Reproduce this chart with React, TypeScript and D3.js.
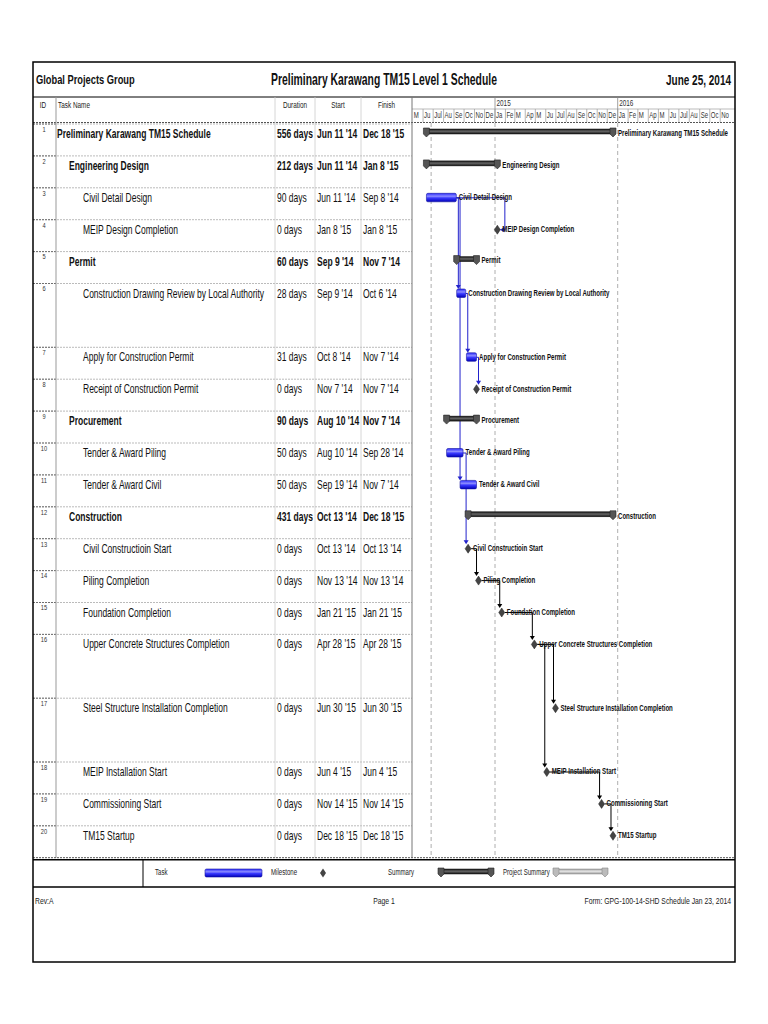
import React from 'react';
import * as d3 from 'd3';

const taskIds = [1,2,3,4,5,6,7,8,9,10,11,12,13,14,15,16,17,18,19,20];
const taskNames = [
  'Preliminary Karawang TM15 Schedule',
  'Engineering Design',
  'Civil  Detail Design',
  'MEIP Design Completion',
  'Permit',
  'Construction Drawing Review by Local Authority',
  'Apply for Construction Permit',
  'Receipt of Construction Permit',
  'Procurement',
  'Tender & Award Piling',
  'Tender & Award Civil',
  'Construction',
  'Civil Constructioin Start',
  'Piling Completion',
  'Foundation Completion',
  'Upper Concrete Structures Completion',
  'Steel Structure Installation Completion',
  'MEIP Installation Start',
  'Commissioning Start',
  'TM15 Startup',
];
const taskLevels = [0,1,2,2,1,2,2,2,1,2,2,1,2,2,2,2,2,2,2,2];
const taskKinds = ['summary','summary','task','milestone','summary','task','task','milestone','summary','task','task','summary','milestone','milestone','milestone','milestone','milestone','milestone','milestone','milestone'];
const rowSpans = [1,1,1,1,1,2,1,1,1,1,1,1,1,1,1,2,2,1,1,1];
const durations = ['556 days','212 days','90 days','0 days','60 days','28 days','31 days','0 days','90 days','50 days','50 days','431 days','0 days','0 days','0 days','0 days','0 days','0 days','0 days','0 days'];
const startLabels = ["Jun 11 '14","Jun 11 '14","Jun 11 '14","Jan 8 '15","Sep 9 '14","Sep 9 '14","Oct 8 '14","Nov 7 '14","Aug 10 '14","Aug 10 '14","Sep 19 '14","Oct 13 '14","Oct 13 '14","Nov 13 '14","Jan 21 '15","Apr 28 '15","Jun 30 '15","Jun 4 '15","Nov 14 '15","Dec 18 '15"];
const finishLabels = ["Dec 18 '15","Jan 8 '15","Sep 8 '14","Jan 8 '15","Nov 7 '14","Oct 6 '14","Nov 7 '14","Nov 7 '14","Nov 7 '14","Sep 28 '14","Nov 7 '14","Dec 18 '15","Oct 13 '14","Nov 13 '14","Jan 21 '15","Apr 28 '15","Jun 30 '15","Jun 4 '15","Nov 14 '15","Dec 18 '15"];
const startDates = ['2014-06-11','2014-06-11','2014-06-11','2015-01-08','2014-09-09','2014-09-09','2014-10-08','2014-11-07','2014-08-10','2014-08-10','2014-09-19','2014-10-13','2014-10-13','2014-11-13','2015-01-21','2015-04-28','2015-06-30','2015-06-04','2015-11-14','2015-12-18'];
const finishDates = ['2015-12-18','2015-01-08','2014-09-08','2015-01-08','2014-11-07','2014-10-06','2014-11-07','2014-11-07','2014-11-07','2014-09-28','2014-11-07','2015-12-18','2014-10-13','2014-11-13','2015-01-21','2015-04-28','2015-06-30','2015-06-04','2015-11-14','2015-12-18'];

// dependency links (0-based task indexes)
const linkFrom = [2,2,2,5,6,9,12,13,14,15,15,17,18];
const linkTo   = [3,5,10,6,7,12,13,14,15,16,17,18,19];
const linkBlue = [true,true,true,true,true,true,false,false,false,false,false,false,false];
const linkFinishFinish = [true,false,false,false,false,false,false,false,false,false,false,false,false];

const monthLabels = ['M','Ju','Jul','Au','Se','Oc','No','De','Ja','Fe','M','Ap','M','Ju','Jul','Au','Se','Oc','No','De','Ja','Fe','M','Ap','M','Ju','Jul','Au','Se','Oc','No'];
const yearLabels = ['', '2015', '2016'];
const statusDate = '2014-06-25';

const headerTitle = 'Preliminary Karawang TM15 Level 1 Schedule';
const headerLeft = 'Global Projects Group';
const headerDate = 'June 25, 2014';
const footerLeft = 'Rev:A';
const footerMid = 'Page 1';
const footerRight = 'Form: GPG-100-14-SHD Schedule Jan 23, 2014';

const FONT = "'Liberation Sans', Arial, sans-serif";
const K = 0.71; // horizontal condensation (narrow face look)

const parse = d3.utcParse('%Y-%m-%d');

type TxtProps = {
  x: number; y: number; size: number; bold?: boolean; anchor?: 'start' | 'middle' | 'end';
  fill?: string; children: React.ReactNode; k?: number;
};
function Txt({ x, y, size, bold, anchor = 'start', fill = '#111', children, k = K }: TxtProps) {
  return (
    <text
      transform={`translate(${x},${y}) scale(${k},1)`}
      fontSize={size}
      fontWeight={bold ? 'bold' : 'normal'}
      textAnchor={anchor}
      dominantBaseline="central"
      fill={fill}
    >
      {children}
    </text>
  );
}

export default function App() {
  const W = 768, H = 1024;
  const L = 33, R = 735, T = 62, B = 962;
  const ganttL = 412;
  const colName = 56, colDur = 275, colStart = 315, colFin = 361;
  const x = d3.scaleUtc()
    .domain([parse('2015-01-01')!, parse('2016-01-01')!])
    .range([495, 617.7]);

  const unit = 31.9;
  const firstTop = 124;
  const unitScale = d3.scaleLinear().domain([0, 1]).range([firstTop, firstTop + unit]);
  const cum = d3.cumsum(rowSpans);
  const rowTop = rowSpans.map((s, i) => unitScale(cum[i] - s));
  const tableEnd = unitScale(cum[cum.length - 1]);

  const sx = taskIds.map((_, i) => x(parse(startDates[i])!));
  const fx = taskIds.map((_, i) => x(parse(finishDates[i])!));

  const months = d3.utcMonth.range(parse('2014-05-01')!, parse('2016-12-01')!);
  const years = d3.utcYear.range(parse('2014-01-01')!, parse('2017-01-01')!);
  const tierTop = 97, tierMid = 109, tierBot = 122;

  const clampX = (v: number) => Math.max(ganttL, Math.min(R, v));

  const summaryShape = (x0: number, x1: number, top: number, key: string, light = false) => {
    const cap = (cx: number) =>
      `M${cx - 3},${top + 4} H${cx + 3} V${top + 10} L${cx},${top + 13} L${cx - 3},${top + 10} Z`;
    return (
      <g key={key}>
        <rect x={x0} y={top + 5} width={x1 - x0} height={5} fill={light ? 'url(#psumGrad)' : 'url(#sumGrad)'} stroke={light ? '#888' : '#111'} strokeWidth={0.5} />
        <path d={cap(x0)} fill={light ? '#bbb' : '#555'} stroke={light ? '#888' : '#222'} strokeWidth={0.6} />
        <path d={cap(x1)} fill={light ? '#bbb' : '#555'} stroke={light ? '#888' : '#222'} strokeWidth={0.6} />
      </g>
    );
  };

  const diamond = (cx: number, cy: number) =>
    `M${cx},${cy - 4.5} L${cx + 3},${cy} L${cx},${cy + 4.5} L${cx - 3},${cy} Z`;

  const links = linkFrom.map((fi, k) => {
    const ti = linkTo[k];
    const color = linkBlue[k] ? '#2222cc' : '#000';
    const predMil = taskKinds[fi] === 'milestone';
    const succMil = taskKinds[ti] === 'milestone';
    const px = predMil ? sx[fi] + 3 : fx[fi];
    const py = rowTop[fi] + 10;
    if (linkFinishFinish[k]) {
      const sxm = sx[ti];
      const cy = rowTop[ti] + 10;
      const vx = sxm + 7.5;
      return (
        <g key={'l' + k}>
          <path d={`M${px},${py} H${vx} V${cy} H${sxm + 6}`} fill="none" stroke={color} strokeWidth={1} />
          <path d={`M${sxm + 2.5},${cy} L${sxm + 7},${cy - 2.5} L${sxm + 7},${cy + 2.5} Z`} fill={color} />
        </g>
      );
    }
    const vx = succMil ? Math.max(px + 2, sx[ti] - 2) : Math.max(px + 2, sx[ti]);
    const tipY = rowTop[ti] + 5.5;
    return (
      <g key={'l' + k}>
        <path d={`M${px},${py} H${vx} V${tipY - 3}`} fill="none" stroke={color} strokeWidth={1} />
        <path d={`M${vx - 2.5},${tipY - 4} L${vx + 2.5},${tipY - 4} L${vx},${tipY} Z`} fill={color} />
      </g>
    );
  });

  const nameX = (lvl: number) => (lvl === 0 ? 57 : lvl === 1 ? 69 : 83);
  const LBL = 8.6;

  return (
    <svg width={W} height={H} style={{ position: 'absolute', left: 0, top: 0, background: '#fff' }} fontFamily={FONT}>
      <defs>
        <linearGradient id="taskGrad" x1="0" y1="0" x2="0" y2="1">
          <stop offset="0%" stopColor="#2a2aff" />
          <stop offset="35%" stopColor="#8c8cff" />
          <stop offset="55%" stopColor="#3a3aff" />
          <stop offset="100%" stopColor="#0000b8" />
        </linearGradient>
        <linearGradient id="sumGrad" x1="0" y1="0" x2="0" y2="1">
          <stop offset="0%" stopColor="#111" />
          <stop offset="45%" stopColor="#666" />
          <stop offset="100%" stopColor="#111" />
        </linearGradient>
        <linearGradient id="psumGrad" x1="0" y1="0" x2="0" y2="1">
          <stop offset="0%" stopColor="#999" />
          <stop offset="45%" stopColor="#e6e6e6" />
          <stop offset="100%" stopColor="#999" />
        </linearGradient>
      </defs>

      {/* header */}
      <Txt x={36} y={79} size={13.5} bold k={0.69}>{headerLeft}</Txt>
      <Txt x={384} y={80} size={16} bold anchor="middle" k={0.65}>{headerTitle}</Txt>
      <Txt x={731} y={80} size={14.5} bold anchor="end" k={0.69}>{headerDate}</Txt>
      <line x1={L} x2={R} y1={tierTop} y2={tierTop} stroke="#000" strokeWidth={1} />

      {/* column headers */}
      <Txt x={43} y={105} size={9} anchor="middle" fill="#222">ID</Txt>
      <Txt x={58} y={105} size={9} fill="#222">Task Name</Txt>
      <Txt x={(colDur + colStart) / 2} y={105} size={9} anchor="middle" fill="#222">Duration</Txt>
      <Txt x={(colStart + colFin) / 2} y={105} size={9} anchor="middle" fill="#222">Start</Txt>
      <Txt x={(colFin + ganttL) / 2} y={105} size={9} anchor="middle" fill="#222">Finish</Txt>

      {/* timescale */}
      <line x1={ganttL} x2={R} y1={tierMid} y2={tierMid} stroke="#aaa" strokeWidth={0.8} />
      {years.map((yr, i) => {
        const xx = x(yr);
        if (xx < ganttL || xx > R) return null;
        return (
          <g key={'y' + i}>
            <line x1={xx} x2={xx} y1={tierTop} y2={tierBot} stroke="#888" strokeWidth={0.8} />
            <Txt x={xx + 1.5} y={tierTop + 6} size={9} fill="#333">{yearLabels[i]}</Txt>
          </g>
        );
      })}
      {months.map((m, i) => {
        const x0 = clampX(x(m));
        return (
          <g key={'m' + i}>
            {i > 0 && <line x1={x0} x2={x0} y1={tierMid} y2={tierBot} stroke="#999" strokeWidth={0.7} />}
            <Txt x={x0 + 1} y={tierMid + 6.5} size={8.5} fill="#333">{monthLabels[i]}</Txt>
          </g>
        );
      })}
      <line x1={L} x2={R} y1={tierBot + 0.5} y2={tierBot + 0.5} stroke="#555" strokeWidth={1.2} strokeDasharray="2,1" />

      {/* table grid */}
      {rowTop.map((t, i) => (
        <line key={'rs' + i} x1={L} x2={ganttL} y1={t} y2={t} stroke="#aaa" strokeWidth={0.8} strokeDasharray="2,1" />
      ))}
      {rowTop.map((t, i) => (
        <line key={'rid' + i} x1={L} x2={colName} y1={t} y2={t} stroke="#666" strokeWidth={0.9} strokeDasharray="2,1" />
      ))}
      <line x1={colName} x2={colName} y1={tierTop} y2={tableEnd} stroke="#999" strokeWidth={1} />
      {[colDur, colStart, colFin].map((c, i) => (
        <line key={'c' + i} x1={c} x2={c} y1={tierTop} y2={tableEnd} stroke="#ccc" strokeWidth={0.8} />
      ))}
      <line x1={ganttL} x2={ganttL} y1={tierTop} y2={tableEnd} stroke="#777" strokeWidth={1} />

      {/* table rows */}
      {taskIds.map((id, i) => {
        const t = rowTop[i];
        const bold = taskKinds[i] === 'summary';
        const fs = 12;
        return (
          <g key={'row' + i}>
            <Txt x={44} y={t + 5} size={8} anchor="middle" fill="#333">{id}</Txt>
            <Txt x={nameX(taskLevels[i])} y={t + 10} size={fs} bold={bold}>{taskNames[i]}</Txt>
            <Txt x={colDur + 2} y={t + 10} size={fs} bold={bold}>{durations[i]}</Txt>
            <Txt x={colStart + 2} y={t + 10} size={fs} bold={bold}>{startLabels[i]}</Txt>
            <Txt x={colFin + 2} y={t + 10} size={fs} bold={bold}>{finishLabels[i]}</Txt>
          </g>
        );
      })}

      {/* gantt gridlines */}
      {[x(parse(statusDate)!), ...years.map((yr) => x(yr))]
        .filter((v) => v > ganttL && v < R)
        .map((v, i) => (
          <line key={'g' + i} x1={v} x2={v} y1={tierBot + 1} y2={tableEnd} stroke="#999" strokeWidth={0.8} strokeDasharray="4,3" />
        ))}

      {/* links */}
      {links}

      {/* bars */}
      {taskIds.map((id, i) => {
        const t = rowTop[i];
        const kind = taskKinds[i];
        if (kind === 'summary') {
          return (
            <g key={'b' + i}>
              {summaryShape(sx[i], fx[i], t, 's' + i)}
              <Txt x={fx[i] + 5} y={t + 9} size={LBL} bold>{taskNames[i]}</Txt>
            </g>
          );
        }
        if (kind === 'task') {
          return (
            <g key={'b' + i}>
              <rect x={sx[i]} y={t + 5.5} width={fx[i] - sx[i]} height={8.5} rx={1.5} fill="url(#taskGrad)" stroke="#1a1aa0" strokeWidth={0.6} />
              <Txt x={fx[i] + 2.5} y={t + 9.5} size={LBL} bold>{taskNames[i]}</Txt>
            </g>
          );
        }
        return (
          <g key={'b' + i}>
            <path d={diamond(sx[i], t + 10)} fill="#444" stroke="#222" strokeWidth={0.5} />
            <Txt x={sx[i] + 5} y={t + 9.5} size={LBL} bold>{taskNames[i]}</Txt>
          </g>
        );
      })}

      {/* legend */}
      <line x1={L} x2={R} y1={tableEnd} y2={tableEnd} stroke="#555" strokeWidth={1} strokeDasharray="2,1" />
      <line x1={L} x2={R} y1={tableEnd + 2} y2={tableEnd + 2} stroke="#000" strokeWidth={1.5} />
      <line x1={143} x2={143} y1={tableEnd + 2} y2={887} stroke="#000" strokeWidth={1} />
      <line x1={L} x2={R} y1={887} y2={887} stroke="#000" strokeWidth={1.5} />
      <Txt x={155} y={872} size={8.6} fill="#222">Task</Txt>
      <rect x={205} y={869} width={57} height={8} rx={1.5} fill="url(#taskGrad)" stroke="#1a1aa0" strokeWidth={0.6} />
      <Txt x={271} y={872} size={8.6} fill="#222">Milestone</Txt>
      <path d={diamond(323, 873)} fill="#444" />
      <Txt x={388} y={872} size={8.6} fill="#222">Summary</Txt>
      {summaryShape(441, 491, 864, 'legS')}
      <Txt x={503} y={872} size={8.6} fill="#222">Project Summary</Txt>
      {summaryShape(556, 605, 864, 'legP', true)}

      {/* footer */}
      <Txt x={35} y={901} size={9.6} fill="#222">{footerLeft}</Txt>
      <Txt x={384} y={901} size={9.6} anchor="middle" fill="#222">{footerMid}</Txt>
      <Txt x={731} y={901} size={9.6} anchor="end" fill="#222">{footerRight}</Txt>

      {/* frame */}
      <rect x={L} y={T} width={R - L} height={B - T} fill="none" stroke="#000" strokeWidth={1.5} />
    </svg>
  );
}
